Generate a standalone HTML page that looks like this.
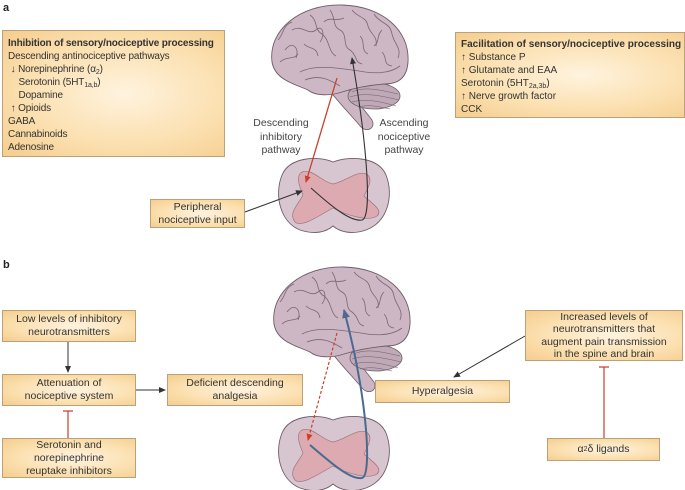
<!DOCTYPE html>
<html><head><meta charset="utf-8"><style>
body{margin:0;width:685px;height:490px;background:#fff;position:relative;overflow:hidden;font-family:"Liberation Sans",sans-serif;color:#333}
.b{position:absolute;box-sizing:border-box;border:1px solid #b9a27a;background:radial-gradient(ellipse at 55% 50%,#fff3df 0%,#fbdfae 60%,#f5cd8e 100%);font-size:10.5px;line-height:13px}
.c{display:flex;align-items:center;justify-content:center;text-align:center}
.l{position:absolute;font-size:10.5px;line-height:13.5px;text-align:center;color:#444}
sub{font-size:7px;vertical-align:-2px;line-height:0}
svg{position:absolute;left:0;top:0}
</style></head><body>
<svg width="685" height="490">
<defs>
<g id="brain">
<path d="M56,86 L76,86 C86,100 96,112 102,120 C106,128 97,133 91,127 C80,114 68,102 56,86Z" fill="#cdb6c3" stroke="#6f5c68" stroke-width="0.8"/>
<ellipse cx="104" cy="96" rx="26" ry="13" fill="#bfa9b6" stroke="#6f5c68" stroke-width="0.8"/>
<g stroke="#6f5c68" stroke-width="0.5" fill="none"><path d="M82,92 C95,86 110,90 128,94"/><path d="M80,97 C95,92 112,96 129,100"/><path d="M82,102 C96,98 112,102 126,106"/><path d="M88,107 C100,104 110,107 120,109"/></g>
<path d="M2,62 C-2,30 30,4 72,5 C112,6 140,30 138,62 C137,78 128,84 115,84 C100,85 85,88 72,92 C60,96 45,96 38,90 C25,84 5,80 2,62Z" fill="#cdb7c4" stroke="#6f5c68" stroke-width="0.9"/>
<g stroke="#7a6672" stroke-width="0.8" fill="none">
<path d="M30,72 C45,64 70,68 95,72 C110,74 122,72 130,66"/>
<path d="M35,80 C50,74 60,80 70,86"/>
<path d="M15,50 C22,40 30,48 26,58 M22,30 C32,24 38,36 46,30 C52,24 56,34 50,42"/>
<path d="M40,15 C48,20 44,30 52,34 C60,40 58,52 66,56"/>
<path d="M60,10 C66,18 62,26 70,30 C78,34 72,46 80,50 C88,56 84,62 92,64"/>
<path d="M82,10 C88,18 96,16 98,26 C100,34 108,36 106,46"/>
<path d="M104,14 C110,24 120,22 122,34 C124,44 132,48 128,58"/>
<path d="M10,62 C16,56 24,60 28,54 M34,44 C40,50 46,46 48,56 M90,36 C96,42 90,50 98,54 M112,52 C118,58 112,64 122,66"/>
<path d="M8,40 C14,34 12,26 22,22 M54,22 C60,16 66,22 74,18 M112,30 C106,36 110,42 104,46"/>
</g>
</g>
<g id="cord">
<path d="M333,162 C320,156 290,156 282,175 C274,195 280,222 300,230 C315,235 326,232 333,226 C340,232 352,235 366,230 C388,222 394,195 386,175 C378,156 348,156 333,162Z" fill="#d7c6cf" stroke="#6f5c68" stroke-width="0.9"/>
<path d="M333,184 C322,182 312,168 302,172 C295,176 300,188 303,195 C298,205 288,213 295,222 C302,228 320,215 333,208 C346,215 368,222 377,216 C384,210 370,202 364,196 C368,188 374,178 366,174 C358,170 344,182 333,184Z" fill="#dcaab0" stroke="#9a7480" stroke-width="0.7"/>
</g>
<marker id="ak" markerWidth="8" markerHeight="8" refX="6" refY="3" orient="auto" markerUnits="userSpaceOnUse"><path d="M0,0 L7,3 L0,6Z" fill="#333"/></marker>
<marker id="ar" markerWidth="8" markerHeight="8" refX="6" refY="3" orient="auto" markerUnits="userSpaceOnUse"><path d="M0,0 L7,3 L0,6Z" fill="#c8402a"/></marker>
<marker id="ab" markerWidth="10" markerHeight="10" refX="8" refY="4" orient="auto" markerUnits="userSpaceOnUse"><path d="M0,0 L9,4 L0,8Z" fill="#4a6a92"/></marker>
</defs>
<text x="3" y="11" font-family="Liberation Sans" font-weight="bold" font-size="11" fill="#222">a</text>
<text x="3" y="268" font-family="Liberation Sans" font-weight="bold" font-size="11" fill="#222">b</text>
<use href="#brain" transform="translate(270,0)"/>
<use href="#cord"/>
<path d="M337,78 L306,182" stroke="#c8402a" stroke-width="1.3" marker-end="url(#ar)"/>
<path d="M311,188 C330,205 350,222 362,220 C372,218 368,150 352,58" stroke="#333" stroke-width="1.1" fill="none" marker-end="url(#ak)"/>
<path d="M245,212 L302,191" stroke="#333" stroke-width="1" marker-end="url(#ak)"/>
<use href="#brain" transform="translate(272,262)"/>
<use href="#cord" transform="translate(0,258)"/>
<path d="M337,333 L308,440" stroke="#c8402a" stroke-width="1.2" stroke-dasharray="3,2" marker-end="url(#ar)"/>
<path d="M310,445 C330,462 350,480 362,478 C372,476 368,400 344,310" stroke="#4a6a92" stroke-width="2" fill="none" marker-end="url(#ab)"/>
<path d="M68,342 L68,372" stroke="#333" stroke-width="1" marker-end="url(#ak)"/>
<path d="M136,390 L165,390" stroke="#333" stroke-width="1" marker-end="url(#ak)"/>
<path d="M68,438 L68,411 M63,411 L73,411" stroke="#c8402a" stroke-width="1.2"/>
<path d="M525,336 L454,377" stroke="#333" stroke-width="1" marker-end="url(#ak)"/>
<path d="M604,438 L604,367 M599,367 L609,367" stroke="#c8402a" stroke-width="1.2"/>
</svg>
<div class="b" style="left:2px;top:30px;width:223px;height:127px;padding:6px 0 0 5px;font-size:10px;letter-spacing:-0.15px;white-space:nowrap">
<b>Inhibition of sensory/nociceptive processing</b><br>Descending antinociceptive pathways<br>&nbsp;↓ Norepinephrine (α<sub>2</sub>)<br>&nbsp;&nbsp;&nbsp;&nbsp;Serotonin (5HT<sub>1a,b</sub>)<br>&nbsp;&nbsp;&nbsp;&nbsp;Dopamine<br>&nbsp;↑ Opioids<br>GABA<br>Cannabinoids<br>Adenosine</div>
<div class="b" style="left:455px;top:32px;width:230px;height:86px;padding:5px 0 0 5px;font-size:10px;white-space:nowrap">
<b>Facilitation of sensory/nociceptive processing</b><br>↑ Substance P<br>↑ Glutamate and EAA<br>Serotonin (5HT<sub>2a,3b</sub>)<br>↑ Nerve growth factor<br>CCK</div>
<div class="l" style="left:238px;top:117px;width:86px">Descending<br>inhibitory<br>pathway</div>
<div class="l" style="left:360px;top:117px;width:88px">Ascending<br>nociceptive<br>pathway</div>
<div class="b c" style="left:150px;top:199px;width:95px;height:29px">Peripheral<br>nociceptive input</div>
<div class="b c" style="left:2px;top:310px;width:134px;height:32px">Low levels of inhibitory<br>neurotransmitters</div>
<div class="b c" style="left:2px;top:374px;width:134px;height:32px">Attenuation of<br>nociceptive system</div>
<div class="b c" style="left:2px;top:438px;width:134px;height:40px">Serotonin and<br>norepinephrine<br>reuptake inhibitors</div>
<div class="b c" style="left:167px;top:374px;width:136px;height:32px">Deficient descending<br>analgesia</div>
<div class="b c" style="left:375px;top:380px;width:135px;height:23px">Hyperalgesia</div>
<div class="b c" style="left:525px;top:310px;width:158px;height:51px;line-height:12.5px">Increased levels of<br>neurotransmitters that<br>augment pain transmission<br>in the spine and brain</div>
<div class="b c" style="left:547px;top:438px;width:113px;height:23px">α<sub>2</sub>δ ligands</div>
</body></html>
